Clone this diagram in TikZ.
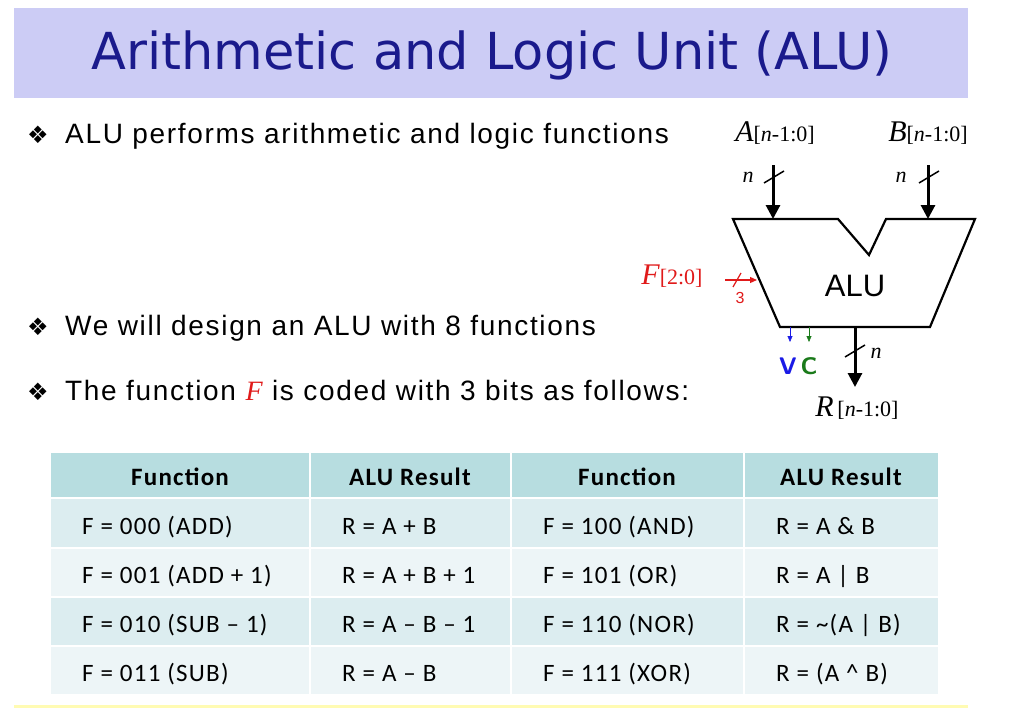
\documentclass[tikz,border=0pt]{standalone}
\usepackage{amsmath}
\usepackage{fontspec}
\setmainfont{Liberation Sans}
\newfontfamily\titlefont{DejaVu Sans}
\newfontfamily\tablefont[LetterSpace=5]{Carlito}
\newfontfamily\symfont{DejaVu Sans}
\newfontfamily\labelfont{Liberation Serif}
\newfontfamily\bodyfont[LetterSpace=6]{Liberation Sans}
\usepackage{xcolor}
\definecolor{titlebg}{HTML}{CCCCF5}
\definecolor{titleblue}{HTML}{1A1A8C}
\definecolor{headbg}{HTML}{B7DDE0}
\definecolor{rowa}{HTML}{DCEDF0}
\definecolor{rowb}{HTML}{EDF5F7}
\definecolor{vblue}{HTML}{1A1AE6}
\definecolor{cgreen}{HTML}{1A7A1A}
\definecolor{fred}{HTML}{E01A1A}
\usetikzlibrary{arrows.meta}
\newcommand{\buslbl}[2]{{\labelfont\itshape\fontsize{30}{32}\selectfont #1}{\labelfont\fontsize{22}{24}\selectfont #2}}
\tikzset{
    bullet-text/.style = {anchor=base west, font=\bodyfont\fontsize{28}{32}\selectfont, inner sep=0pt},
    bus/.style = {line width=3pt, -{Triangle[length=14pt,width=14pt]}},
    bus-label/.style = {inner sep=0pt},
    width-mark/.style = {font=\labelfont\itshape\fontsize{22}{24}\selectfont, inner sep=0pt},
    cell/.style = {anchor=base west, font=\tablefont\fontsize{25}{28}\selectfont, inner sep=0pt},
    head-cell/.style = {anchor=base, font=\tablefont\bfseries\fontsize{25}{28}\selectfont, inner sep=0pt},
}
\begin{document}
\begin{tikzpicture}[x=1pt,y=-1pt]
\useasboundingbox (0,0) rectangle (1010,709);
% title
\fill[titlebg] (14,8) rectangle (968,98);
\node[font=\titlefont\fontsize{51}{56}\selectfont, text=titleblue] (title) at (492,55) {Arithmetic and Logic Unit (ALU)};
% bullets
\foreach \y/\txt [count=\i] in {143/{ALU performs arithmetic and logic functions}, 335/{We will design an ALU with 8 functions}, 400/{The function \textcolor{fred}{\labelfont\itshape F} is coded with 3 bits as follows:}} {
    \node[font=\symfont\fontsize{24}{26}\selectfont, inner sep=0pt, anchor=base] (b\i) at (38,\y) {❖};
    \node[bullet-text] (t\i) at (65,\y) {\txt};
}
% ALU body
\draw[line width=2.2pt, line join=miter] (733,219) -- (838,219) -- (869,255) -- (886,219) -- (975,219) -- (930,327) -- (780,327) -- cycle;
\node[font=\fontsize{31}{34}\selectfont] (alu) at (855,286) {ALU};
\coordinate (a-in) at (773,219);
\coordinate (b-in) at (928,219);
\coordinate (f-in) at (757,280);
\coordinate (r-out) at (855,327);
\coordinate (v-out) at (790,327);
\coordinate (c-out) at (809,327);
% inputs
\node[bus-label] (a) at (775,133) {\buslbl{A}{[\textit{n}-1:0]}};
\node[bus-label] (b) at (928,133) {\buslbl{B}{[\textit{n}-1:0]}};
\draw[bus] (773,165) -- (a-in);
\draw[bus] (928,165) -- (b-in);
\draw[line width=1.5pt] (764,183) -- (784,171);
\draw[line width=1.5pt] (919,183) -- (939,171);
\node[width-mark] (na) at (748,177) {n};
\node[width-mark] (nb) at (901,177) {n};
% function select
\node[bus-label, text=fred] (f) at (672,276) {\buslbl{F}{[2:0]}};
\coordinate (f-start) at (725,280);
\draw[fred, line width=1.2pt, -{Triangle[length=7pt,width=6pt]}] (f-start) -- (f-in);
\draw[fred, line width=1.2pt] (733,287) -- (741,273);
\node[font=\fontsize{16}{18}\selectfont, text=fred, inner sep=0pt] (three) at (740,298) {3};
% outputs
\draw[bus] (r-out) -- (855,387);
\draw[line width=1.5pt] (845,357) -- (865,345);
\node[width-mark] (nr) at (876,353) {n};
\node[bus-label] (r) at (857,408) {\buslbl{R}{\,[\textit{n}-1:0]}};
\draw[vblue, -{Triangle[length=6pt,width=5pt]}] (v-out) -- (790,342);
\draw[cgreen, -{Triangle[length=6pt,width=5pt]}] (c-out) -- (809,342);
\node[font=\sffamily\bfseries\fontsize{24}{26}\selectfont, text=vblue, inner sep=0pt] (v) at (788,366) {V};
\node[font=\sffamily\bfseries\fontsize{24}{26}\selectfont, text=cgreen, inner sep=0pt] (c) at (809,366) {C};
% table
\fill[headbg] (51,453) rectangle (938,498);
\foreach \top/\bot/\col in {498/548/rowa, 548/597/rowb, 597/646/rowa, 646/694/rowb}
    \fill[\col] (51,\top) rectangle (938,\bot);
\foreach \x in {310,511,744} \draw[white, line width=1.5pt] (\x,453) -- (\x,694);
\foreach \y in {498,548,597,646} \draw[white, line width=2pt] (51,\y) -- (938,\y);
\node[head-cell] (h1) at (180,485) {Function};
\node[head-cell] (h2) at (410,485) {ALU Result};
\node[head-cell] (h3) at (627,485) {Function};
\node[head-cell] (h4) at (841,485) {ALU Result};
\foreach \y/\fa/\ra/\fb/\rb in {
    534/{F = 000 (ADD)}/{R = A + B}/{F = 100 (AND)}/{R = A \& B},
    583/{F = 001 (ADD + 1)}/{R = A + B + 1}/{F = 101 (OR)}/{R = A | B},
    632/{F = 010 (SUB – 1)}/{R = A – B – 1}/{F = 110 (NOR)}/{R = \textasciitilde(A | B)},
    681/{F = 011 (SUB)}/{R = A – B}/{F = 111 (XOR)}/{R = (A \textasciicircum{} B)}} {
    \node[cell] at (82,\y) {\fa};
    \node[cell] at (342,\y) {\ra};
    \node[cell] at (543,\y) {\fb};
    \node[cell] at (776,\y) {\rb};
}
\draw[yellow!30, line width=3pt] (14,706) -- (968,706);
\end{tikzpicture}
\end{document}
